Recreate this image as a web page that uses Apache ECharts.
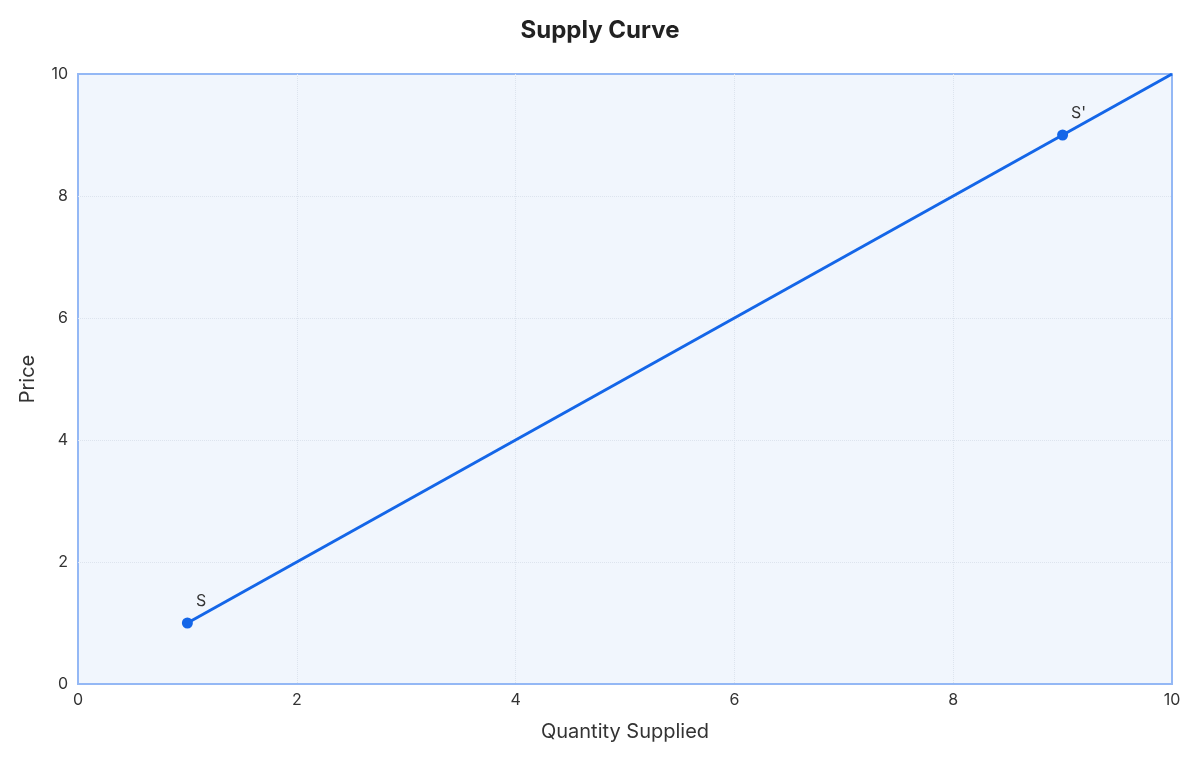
<!DOCTYPE html>
<html><head><meta charset="utf-8">
<script src="https://cdn.jsdelivr.net/npm/echarts@6/dist/echarts.min.js"></script>
<style>html,body{margin:0;padding:0;background:#fff}#c{width:1200px;height:761px}</style>
</head><body><div id="c"></div>
<script>
const lineData = [[1,1],[10,10]];
const pointData = [[1,1],[9,9]];
const pointLabels = ['S', "S'"];
const xTicks = [0,2,4,6,8,10];
const yTicks = [0,2,4,6,8,10];
const chart = echarts.init(document.getElementById('c'));
const font = 'Inter, "Noto Sans", sans-serif';
chart.setOption({
  animation:false,
  title:{text:'Supply Curve',left:'center',top:14,textStyle:{fontFamily:font,fontSize:24,fontWeight:'bold',color:'#222'}},
  grid:{left:78,right:28,top:74,bottom:77,show:true,backgroundColor:'#f1f6fd',borderColor:'#94b8f5',borderWidth:2},
  xAxis:{type:'value',min:0,max:10,interval:2,name:'Quantity Supplied',nameLocation:'middle',nameGap:38,
    nameTextStyle:{fontFamily:font,fontSize:20,color:'#333'},
    axisLine:{show:false},axisTick:{show:false},
    axisLabel:{fontFamily:font,fontSize:16,color:'#333',margin:8},
    splitLine:{show:true,showMinLine:false,showMaxLine:false,lineStyle:{type:'dotted',color:'#dde4ee'}}},
  yAxis:{type:'value',min:0,max:10,interval:2,name:'Price',nameLocation:'middle',nameGap:40,
    nameTextStyle:{fontFamily:font,fontSize:20,color:'#333'},
    axisLine:{show:false},axisTick:{show:false},
    axisLabel:{fontFamily:font,fontSize:16,color:'#333',margin:10},
    splitLine:{show:true,showMinLine:false,showMaxLine:false,lineStyle:{type:'dotted',color:'#dde4ee'}}},
  series:[
    {type:'line',data:lineData,showSymbol:false,lineStyle:{color:'#1466e8',width:3},z:2},
    {type:'scatter',data:pointData.map((p,i)=>({value:p,name:pointLabels[i]})),symbolSize:11,
     itemStyle:{color:'#1466e8',opacity:1},z:3,
     label:{show:true,formatter:p=>p.name,position:[14,-24],fontFamily:font,fontSize:16,color:'#333'}}
  ]
});
</script></body></html>
